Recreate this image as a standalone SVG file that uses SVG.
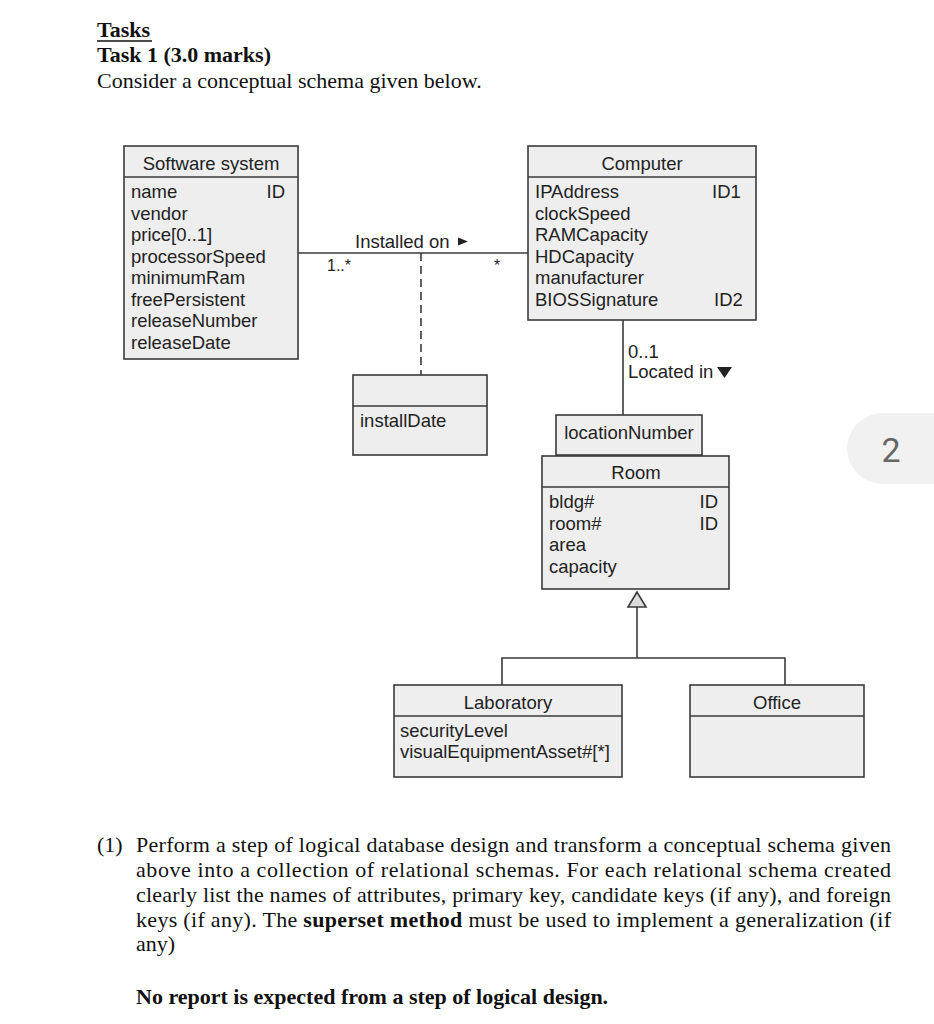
<svg xmlns="http://www.w3.org/2000/svg" width="934" height="1024" viewBox="0 0 934 1024">
<style>
.doc{font-family:"Liberation Serif","Times New Roman",serif;font-size:22px;fill:#111}
.b{font-weight:bold}
.box{fill:#eeeeee;stroke:#3a3a3a;stroke-width:1.6}
.div{stroke:#3a3a3a;stroke-width:1.6;fill:none}
.t{font-family:"Liberation Sans",Arial,sans-serif;font-size:18.5px;fill:#222}
.c{text-anchor:middle}
.e{text-anchor:end}
.ln{stroke:#3a3a3a;stroke-width:1.6;fill:none}
</style>
<rect width="934" height="1024" fill="#ffffff"/>

<g id="header">
<text class="doc b" x="97" y="37">Tasks</text>
<line x1="97" y1="41" x2="152" y2="41" stroke="#111" stroke-width="1.6"/>
<text class="doc b" x="97" y="62">Task 1 (3.0 marks)</text>
<text class="doc" x="97" y="88">Consider a conceptual schema given below.</text>
</g>

<g id="connectors">
<line class="ln" x1="298" y1="253" x2="528" y2="253"/>
<line class="ln" x1="421" y1="253" x2="421" y2="375" stroke-dasharray="8,5"/>
<line class="ln" x1="623" y1="320" x2="623" y2="415"/>
<polygon points="637,592 628,607 646,607" fill="#dddddd" stroke="#3a3a3a" stroke-width="1.6"/>
<polyline class="ln" points="637,607 637,658"/>
<polyline class="ln" points="502,685 502,658 785,658 785,685"/>
<text class="t" x="355" y="248">Installed on</text>
<polygon points="458,237.5 468,241.5 458,245.5" fill="#222"/>
<text class="t" x="327" y="271" style="font-size:16px">1..*</text>
<text class="t" x="494" y="271" style="font-size:16px">*</text>
<text class="t" x="628" y="358">0..1</text>
<text class="t" x="628" y="378">Located in</text>
<polygon points="717,367 732,367 724.5,378" fill="#222"/>
</g>

<g id="software-system">
<rect class="box" x="124" y="146" width="174" height="213"/>
<line class="div" x1="124" y1="177" x2="298" y2="177"/>
<text class="t c" x="211" y="170">Software system</text>
<text class="t" x="131" y="198">name</text>
<text class="t e" x="285" y="198">ID</text>
<text class="t" x="131" y="219.5">vendor</text>
<text class="t" x="131" y="241">price[0..1]</text>
<text class="t" x="131" y="262.5">processorSpeed</text>
<text class="t" x="131" y="284">minimumRam</text>
<text class="t" x="131" y="305.5">freePersistent</text>
<text class="t" x="131" y="327">releaseNumber</text>
<text class="t" x="131" y="348.5">releaseDate</text>
</g>

<g id="computer">
<rect class="box" x="528" y="146" width="228" height="174"/>
<line class="div" x1="528" y1="177" x2="756" y2="177"/>
<text class="t c" x="642" y="170">Computer</text>
<text class="t" x="535" y="198">IPAddress</text>
<text class="t" x="712" y="198">ID1</text>
<text class="t" x="535" y="219.5">clockSpeed</text>
<text class="t" x="535" y="241">RAMCapacity</text>
<text class="t" x="535" y="262.5">HDCapacity</text>
<text class="t" x="535" y="284">manufacturer</text>
<text class="t" x="535" y="305.5">BIOSSignature</text>
<text class="t" x="714" y="305.5">ID2</text>
</g>

<g id="installed-on-class">
<rect class="box" x="353" y="375" width="134" height="80"/>
<line class="div" x1="353" y1="406" x2="487" y2="406"/>
<text class="t" x="360" y="426.5">installDate</text>
</g>

<g id="location-number">
<rect class="box" x="556" y="415" width="146" height="40"/>
<text class="t c" x="629" y="439">locationNumber</text>
</g>

<g id="room">
<rect class="box" x="542" y="456" width="187" height="133"/>
<line class="div" x1="542" y1="487" x2="729" y2="487"/>
<text class="t c" x="636" y="479">Room</text>
<text class="t" x="549" y="508">bldg#</text>
<text class="t e" x="718" y="508">ID</text>
<text class="t" x="549" y="529.5">room#</text>
<text class="t e" x="718" y="529.5">ID</text>
<text class="t" x="549" y="551">area</text>
<text class="t" x="549" y="572.5">capacity</text>
</g>

<g id="laboratory">
<rect class="box" x="394" y="685" width="228" height="92"/>
<line class="div" x1="394" y1="716" x2="622" y2="716"/>
<text class="t c" x="508" y="709">Laboratory</text>
<text class="t" x="400" y="736.5">securityLevel</text>
<text class="t" x="400" y="758">visualEquipmentAsset#[*]</text>
</g>

<g id="office">
<rect class="box" x="690" y="685" width="174" height="92"/>
<line class="div" x1="690" y1="716" x2="864" y2="716"/>
<text class="t c" x="777" y="709">Office</text>
</g>

<g id="page-badge">
<rect x="847" y="413" width="130" height="71" rx="35.5" fill="#f1f1f1"/>
<text x="891" y="462" text-anchor="middle" style="font-family:'Roboto','Liberation Sans',sans-serif;font-size:34px;fill:#666">2</text>
</g>

<g id="question">
<text class="doc" x="97" y="852">(1)</text>
<text class="doc" x="136" y="852" textLength="755" lengthAdjust="spacing">Perform a step of logical database design and transform a conceptual schema given</text>
<text class="doc" x="136" y="877" textLength="755" lengthAdjust="spacing">above into a collection of relational schemas. For each relational schema created</text>
<text class="doc" x="136" y="902" textLength="755" lengthAdjust="spacing">clearly list the names of attributes, primary key, candidate keys (if any), and foreign</text>
<text class="doc" x="136" y="927" textLength="755" lengthAdjust="spacing">keys (if any). The <tspan class="b">superset method</tspan> must be used to implement a generalization (if</text>
<text class="doc" x="136" y="951">any)</text>
<text class="doc b" x="136" y="1004">No report is expected from a step of logical design.</text>
</g>
</svg>
